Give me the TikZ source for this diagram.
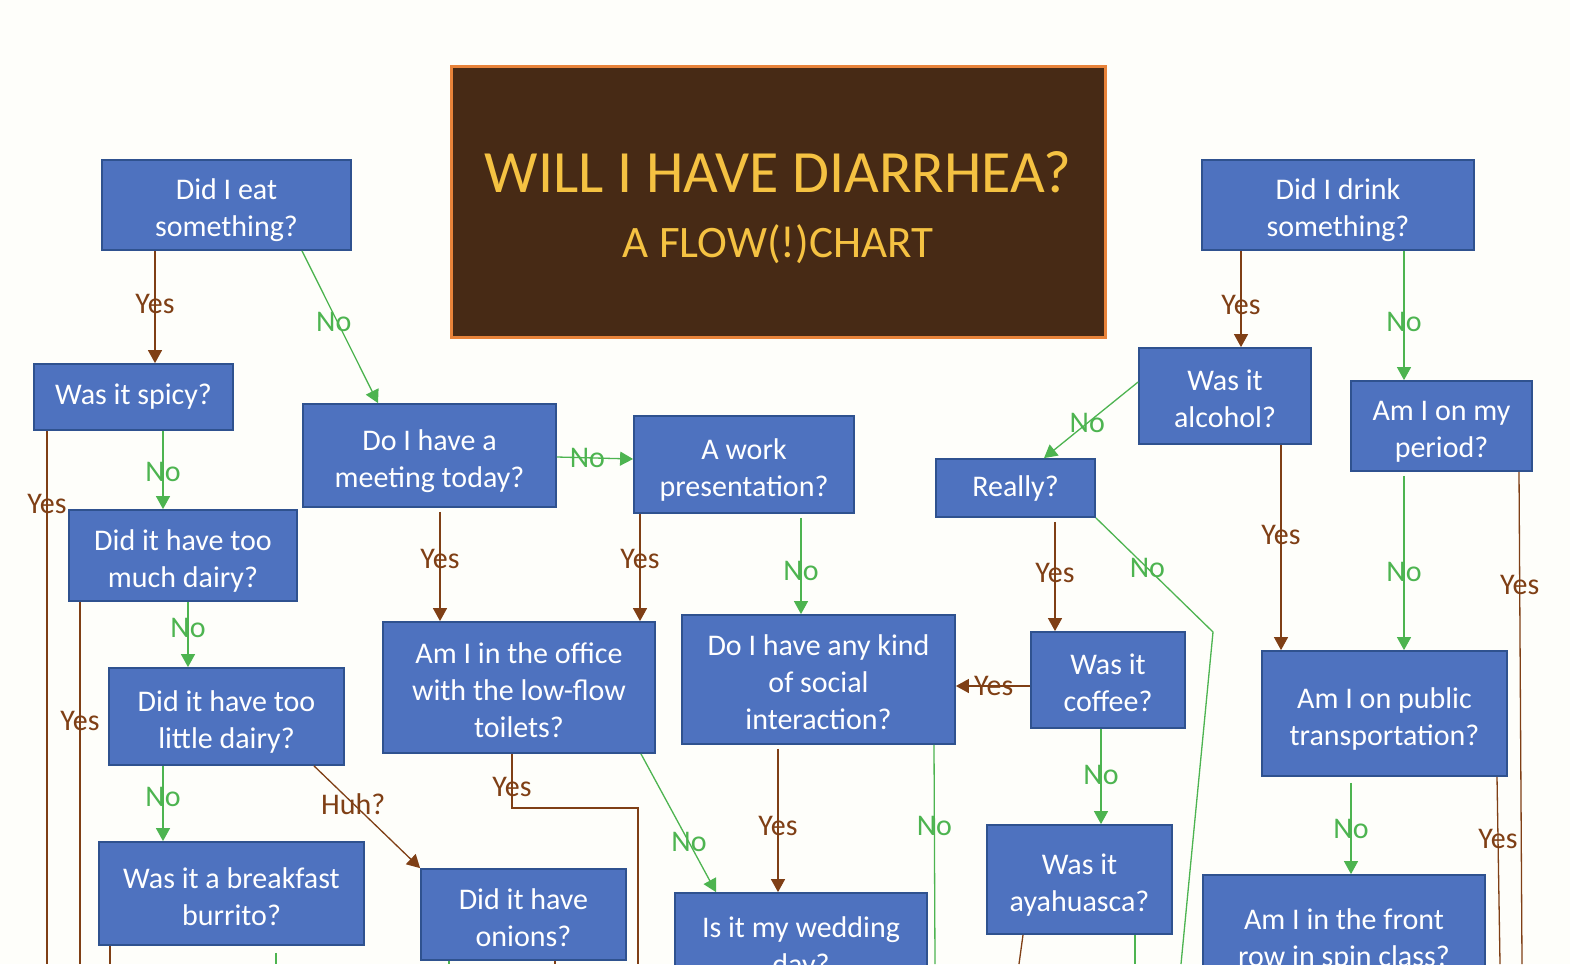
\documentclass[tikz,border=0pt]{standalone}
\usepackage{fontspec}
\setmainfont{Carlito}
\usetikzlibrary{arrows.meta}
\definecolor{paper}{HTML}{FEFEFA}
\definecolor{boxblue}{HTML}{4E72BF}
\definecolor{boxedge}{HTML}{2F528F}
\definecolor{yesbrown}{HTML}{7F3F15}
\definecolor{nogreen}{HTML}{4DB450}
\definecolor{titlebrown}{HTML}{472A15}
\definecolor{titleedge}{HTML}{E8833A}
\definecolor{titlegold}{HTML}{F5C242}
\begin{document}
\begin{tikzpicture}[x=1pt,y=-1pt,
    qbox/.style={draw=boxedge, fill=boxblue, line width=1.8pt, text=white, align=center,
      inner sep=0pt, font=\fontsize{30}{37}\selectfont},
    qboxtwo/.style={qbox, text height=63pt, text depth=0pt},
    qboxthree/.style={qbox, text height=100pt, text depth=0pt},
    yes/.style={draw=yesbrown, line width=1.3pt},
    no/.style={draw=nogreen, line width=1.3pt},
    tip/.style={-{Triangle[width=14pt,length=13pt]}},
    yeslbl/.style={text=yesbrown, inner sep=0pt, font=\fontsize{30}{36}\selectfont},
    nolbl/.style={text=nogreen, inner sep=0pt, font=\fontsize{30}{36}\selectfont}]
    \fill[paper] (0,0) rectangle (1570,964);
    \useasboundingbox (0,0) rectangle (1570,964);
    \clip (0,0) rectangle (1570,964);

    \node[draw=titleedge, fill=titlebrown, line width=3pt, minimum width=654, minimum height=271] (title) at (778,201.5) {};
    \node[text=titlegold, font=\fontsize{60}{72}\selectfont] (heading) at (778,172) {WILL I HAVE DIARRHEA?};
    \node[text=titlegold, font=\fontsize{45}{54}\selectfont] (subheading) at (778,244) {A FLOW(!)CHART};

    \node[qboxtwo, minimum width=249, minimum height=90]  (eat)       at (226.5,205) {Did I eat\\something?};
    \node[qbox, minimum width=199, minimum height=66]     (spicy)     at (133.5,397) {Was it spicy?};
    \node[qboxtwo, minimum width=228, minimum height=91]  (muchdairy) at (183,555.5) {Did it have too\\much dairy?};
    \node[qboxtwo, minimum width=235, minimum height=97]  (littledairy) at (226.5,716.5) {Did it have too\\little dairy?};
    \node[qboxtwo, minimum width=265, minimum height=103] (burrito)   at (231.5,893.5) {Was it a breakfast\\burrito?};
    \node[qboxtwo, minimum width=205, minimum height=91]  (onions)    at (523.5,914.5) {Did it have\\onions?};
    \node[qboxtwo, minimum width=253, minimum height=103] (meeting)   at (429.5,455.5) {Do I have a\\meeting today?};
    \node[qboxtwo, minimum width=220, minimum height=97]  (presentation) at (744,464.5) {A work\\presentation?};
    \node[qboxthree, minimum width=272, minimum height=131] (office)  at (519,687.5) {Am I in the office\\with the low-flow\\toilets?};
    \node[qboxthree, minimum width=273, minimum height=129] (social)  at (818.5,679.5) {Do I have any kind\\of social\\interaction?};
    \node[qboxtwo, minimum width=252, minimum height=100] (wedding)   at (801,943) {Is it my wedding\\day?};
    \node[qboxtwo, minimum width=272, minimum height=90]  (drink)     at (1338,205) {Did I drink\\something?};
    \node[qboxtwo, minimum width=172, minimum height=96]  (alcohol)   at (1225,396) {Was it\\alcohol?};
    \node[qboxtwo, minimum width=181, minimum height=90]  (period)    at (1441.5,426) {Am I on my\\period?};
    \node[qbox, minimum width=159, minimum height=58]     (really)    at (1015.5,488) {Really?};
    \node[qboxtwo, minimum width=154, minimum height=96]  (coffee)    at (1108,680) {Was it\\coffee?};
    \node[qboxtwo, minimum width=185, minimum height=109] (ayahuasca) at (1079.5,879.5) {Was it\\ayahuasca?};
    \node[qboxtwo, minimum width=245, minimum height=125] (transport) at (1384.5,713.5) {Am I on public\\transportation?};
    \node[qboxtwo, minimum width=282, minimum height=120] (spin)      at (1344,935) {Am I in the front\\row in spin class?};

    \coordinate (spicyout)   at (47,964);
    \coordinate (muchout)    at (80,964);
    \coordinate (burritoout) at (110,964);
    \coordinate (burritono)  at (276,964);
    \coordinate (onionsno)   at (449,964);
    \coordinate (onionsyes)  at (555,964);
    \coordinate (officebend) at (638,808);
    \coordinate (officeout)  at (638,964);
    \coordinate (socialout)  at (935,964);
    \coordinate (reallybend) at (1213,632);
    \coordinate (reallyout)  at (1181,964);
    \coordinate (ayaout)     at (1019,964);
    \coordinate (ayano)      at (1135,964);
    \coordinate (periodout)  at (1522,964);
    \coordinate (transout)   at (1500,964);

    \draw[yes, tip] ([xshift=-71.5]eat.south) -- node[yeslbl, pos=0.47] {Yes} ([xshift=-71.5]eat.south |- spicy.north);
    \draw[no, tip]  ([xshift=75.5]eat.south) -- node[nolbl, pos=0.47, xshift=-4] {No} ([xshift=-51.5]meeting.north);
    \draw[no, tip]  ([xshift=29.5]spicy.south) -- node[nolbl, pos=0.53] {No} ([xshift=29.5]spicy.south |- muchdairy.north);
    \draw[yes]      ([xshift=-86.5]spicy.south) -- node[yeslbl, pos=0.137] {Yes} (spicyout);
    \draw[no, tip]  ([xshift=5]muchdairy.south) -- node[nolbl, pos=0.4] {No} ([xshift=5]muchdairy.south |- littledairy.north);
    \draw[yes]      ([xshift=-103]muchdairy.south) -- node[yeslbl, pos=0.33] {Yes} (muchout);
    \draw[no, tip]  ([xshift=-63.5]littledairy.south) -- node[nolbl, pos=0.41] {No} ([xshift=-63.5]littledairy.south |- burrito.north);
    \draw[yes, tip] ([xshift=87.5]littledairy.south) -- node[yeslbl, pos=0.37] {Huh?} (onions.north west);
    \draw[yes]      ([xshift=-121.5]burrito.south) -- (burritoout);
    \draw[no]       ([xshift=44.5,yshift=-7]burrito.south) -- (burritono);
    \draw[no]       ([xshift=-74.5]onions.south) -- (onionsno);
    \draw[yes]      ([xshift=31.5]onions.south) -- (onionsyes);

    \draw[no, tip]  ([yshift=-1.5]meeting.east) -- node[nolbl, pos=0.4] {No} ([yshift=5.5]presentation.west);
    \draw[yes, tip] ([xshift=10.5,yshift=-4]meeting.south) -- node[yeslbl, pos=0.43] {Yes} ([xshift=10.5]meeting.south |- office.north);
    \draw[yes, tip] ([xshift=-104]presentation.south) -- node[yeslbl, pos=0.42] {Yes} ([xshift=-104]presentation.south |- office.north);
    \draw[no, tip]  ([xshift=57,yshift=-4]presentation.south) -- node[nolbl, pos=0.55] {No} ([xshift=57]presentation.south |- social.north);
    \draw[yes]      ([xshift=-7]office.south) |- node[yeslbl, pos=0.31] {Yes} (officebend) -- (officeout);
    \draw[no, tip]  ([xshift=122]office.south) -- node[nolbl, pos=0.64] {No} ([xshift=-85]wedding.north);
    \draw[yes, tip] ([xshift=-40.5,yshift=-4]social.south) -- node[yeslbl, pos=0.54] {Yes} ([xshift=-40.5]social.south |- wedding.north);
    \draw[no]       ([xshift=115.5]social.south) -- node[nolbl, pos=0.37] {No} (socialout);

    \draw[yes, tip] ([xshift=-97]drink.south) -- node[yeslbl, pos=0.56] {Yes} ([xshift=-97]drink.south |- alcohol.north);
    \draw[no, tip]  ([xshift=66]drink.south) -- node[nolbl, pos=0.55] {No} ([xshift=66]drink.south |- period.north);
    \draw[no, tip]  ([yshift=14]alcohol.west) -- node[nolbl, pos=0.54] {No} ([xshift=28.5]really.north);
    \draw[yes, tip] ([xshift=56]alcohol.south) -- node[yeslbl, pos=0.44] {Yes} ([xshift=56]alcohol.south |- transport.north);
    \draw[no, tip]  ([xshift=-37.5,yshift=-4]period.south) -- node[nolbl, pos=0.55] {No} ([xshift=-37.5]period.south |- transport.north);
    \draw[yes]      ([xshift=77.5]period.south) -- node[yeslbl, pos=0.23] {Yes} (periodout);
    \draw[yes, tip] ([xshift=39.5,yshift=-4]really.south) -- node[yeslbl, pos=0.47] {Yes} ([xshift=39.5]really.south |- coffee.north);
    \draw[no]       (really.south east) -- node[nolbl, pos=0.44] {No} (reallybend) -- (reallyout);
    \draw[yes, tip] ([yshift=-6]coffee.west) -- node[yeslbl, pos=0.49] {Yes} ([yshift=-6]coffee.west -| social.east);
    \draw[no, tip]  ([xshift=-7]coffee.south) -- node[nolbl, pos=0.48] {No} ([xshift=-7]coffee.south |- ayahuasca.north);
    \draw[yes]      ([xshift=-56.5]ayahuasca.south) -- (ayaout);
    \draw[no]       ([xshift=55.5]ayahuasca.south) -- (ayano);
    \draw[no, tip]  ([xshift=-33.5,yshift=-6]transport.south) -- node[nolbl, pos=0.5] {No} ([xshift=-33.5]transport.south |- spin.north);
    \draw[yes]      ([xshift=112.5]transport.south) -- node[yeslbl, pos=0.33] {Yes} (transout);
\end{tikzpicture}
\end{document}
